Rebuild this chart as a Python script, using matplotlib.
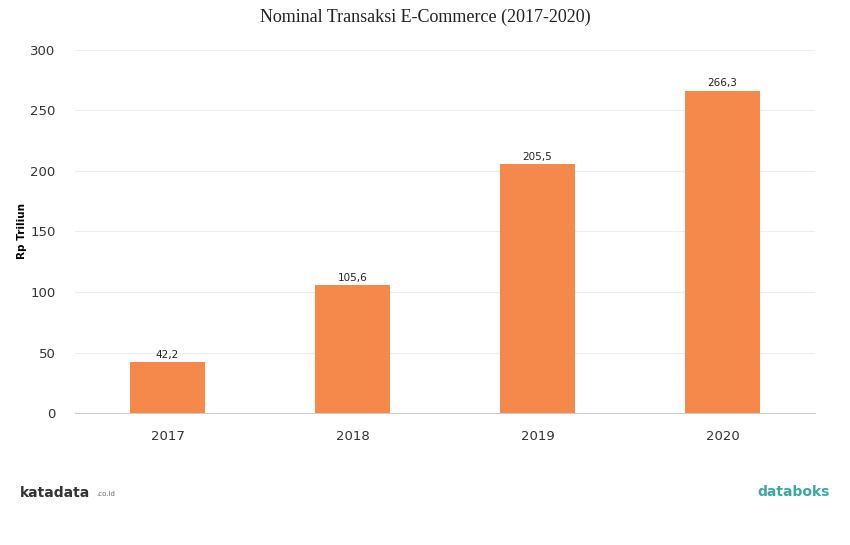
import matplotlib
matplotlib.use("Agg")
import matplotlib.pyplot as plt

years = ["2017", "2018", "2019", "2020"]
values = [42.2, 105.6, 205.5, 266.3]
labels = ["42,2", "105,6", "205,5", "266,3"]
yticks = [0, 50, 100, 150, 200, 250, 300]

fig = plt.figure(figsize=(8.5, 5.45), dpi=100)
ax = fig.add_axes([75/850, 1-413/545, 740/850, 363/545])
x = range(len(years))
ax.bar(x, values, width=0.405, color="#F4894B", zorder=3)
for xi, v, l in zip(x, values, labels):
    ax.text(xi, v + 2, l, ha="center", va="bottom", fontsize=7.5, color="#222222")
ax.set_xlim(-0.5, 3.5)
ax.set_ylim(0, 300)
ax.set_yticks(yticks)
ax.set_xticks(list(x))
ax.set_xticklabels(years)
ax.grid(axis="y", color="#eeeeee", linewidth=0.8, zorder=0)
for s in ["top", "right", "left"]:
    ax.spines[s].set_visible(False)
ax.spines["bottom"].set_color("#cccccc")
ax.tick_params(axis="both", length=0, labelsize=9.5, colors="#333333")
ax.tick_params(axis="x", pad=12)
ax.tick_params(axis="y", pad=14)
fig.text(22/850, 1-231/545, "Rp Triliun", rotation=90, fontsize=7.5, fontweight="bold",
         ha="center", va="center")
fig.text(0.5, 1-17/545, "Nominal Transaksi E-Commerce (2017-2020)", ha="center", va="center",
         fontsize=13, family="Liberation Serif", color="#222222")
fig.text(20/850, 1-493/545, "katadata", fontsize=10, fontweight="bold", color="#333333", va="center")
fig.text(96/850, 1-494/545, ".co.id", fontsize=5, color="#666666", va="center")
fig.text(830/850, 1-492/545, "databoks", fontsize=10, fontweight="bold", color="#3aa7a3", va="center", ha="right")
fig.savefig("out.png", dpi=100)
